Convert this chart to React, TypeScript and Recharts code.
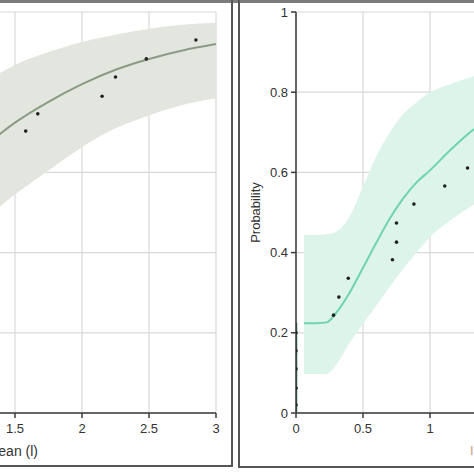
import React from 'react';
import { ComposedChart, Area, Line, Scatter, XAxis, YAxis, CartesianGrid } from 'recharts';

// Left panel: fitted curve, confidence band and observed points
const leftX = [1.3, 1.5, 1.75, 2.0, 2.25, 2.5, 2.75, 3.0];
const leftFit = [0.672, 0.724, 0.776, 0.82, 0.856, 0.883, 0.904, 0.92];
const leftLow = [0.49, 0.545, 0.605, 0.663, 0.71, 0.742, 0.768, 0.785];
const leftHigh = [0.83, 0.868, 0.9, 0.925, 0.943, 0.958, 0.968, 0.973];
const leftObsX = [1.58, 1.67, 2.15, 2.25, 2.48, 2.85];
const leftObsY = [0.703, 0.746, 0.79, 0.838, 0.883, 0.93];
const leftTicks = [1, 1.5, 2, 2.5, 3];

// Right panel: probability curve, confidence band and observed points
const rightX = [0.06, 0.15, 0.23, 0.3, 0.4, 0.5, 0.6, 0.7, 0.8, 0.9, 1.0, 1.15, 1.33, 1.5];
const rightFit = [0.224, 0.224, 0.226, 0.25, 0.3, 0.362, 0.425, 0.485, 0.535, 0.575, 0.605, 0.655, 0.708, 0.74];
const rightLow = [0.097, 0.097, 0.098, 0.12, 0.175, 0.222, 0.268, 0.315, 0.36, 0.4, 0.439, 0.48, 0.52, 0.55];
const rightHigh = [0.444, 0.444, 0.446, 0.452, 0.49, 0.565, 0.64, 0.7, 0.745, 0.775, 0.8, 0.82, 0.84, 0.855];
const rightObsX = [0, 0, 0, 0, 0, 0.28, 0.32, 0.39, 0.72, 0.75, 0.75, 0.88, 1.11, 1.28];
const rightObsY = [0.02, 0.062, 0.11, 0.155, 0.2, 0.244, 0.289, 0.336, 0.382, 0.426, 0.474, 0.521, 0.566, 0.611];
const rightBaseY = [0, 0.225];
const rightTicks = [0, 0.5, 1, 1.5, 2];

const probTicks = [0, 0.2, 0.4, 0.6, 0.8, 1];

const curveRows = (xs: number[], fit: number[], lo: number[], hi: number[]) =>
  xs.map((x, i) => ({ x, fit: fit[i], band: [lo[i], hi[i]] }));
const pointRows = (xs: number[], ys: number[]) => xs.map((x, i) => ({ x, y: ys[i] }));

const leftCurve = curveRows(leftX, leftFit, leftLow, leftHigh);
const leftPoints = pointRows(leftObsX, leftObsY);
const rightCurve = curveRows(rightX, rightFit, rightLow, rightHigh);
const rightPoints = pointRows(rightObsX, rightObsY);
const rightBase = rightBaseY.map((y) => ({ x: 0, y }));

const FONT = 'Arial, "Liberation Sans", sans-serif';
const AXIS = '#3a3a3a';
const GRID = '#d9d9d9';
const tickStyle = { fontSize: 13, fill: '#333', fontFamily: FONT };

const Dot = (p: any) => <circle cx={p.cx} cy={p.cy} r={1.8} fill="#222" />;

export default function App() {
  return (
    <div
      style={{
        position: 'fixed', left: 0, top: 0, width: 474, height: 474,
        overflow: 'hidden', background: '#fff', fontFamily: FONT,
      }}
    >
      {/* left chart */}
      <div style={{ position: 'absolute', left: -52, top: 0 }}>
        <ComposedChart width={278} height={474} margin={{ top: 12, right: 10, bottom: 31, left: 0 }}>
          <CartesianGrid stroke={GRID} strokeWidth={1.2} />
          <XAxis
            dataKey="x" type="number" domain={[1, 3]} ticks={leftTicks} allowDataOverflow
            height={30} tickSize={5} tickMargin={6} tick={tickStyle}
            axisLine={{ stroke: AXIS, strokeWidth: 1.5 }} tickLine={{ stroke: AXIS, strokeWidth: 1.5 }}
          />
          <XAxis xAxisId="top" orientation="top" type="number" domain={[1, 3]} height={0}
            tick={false} tickLine={false} axisLine={{ stroke: AXIS, strokeWidth: 1.5 }} />
          <YAxis type="number" domain={[0, 1]} ticks={probTicks} hide />
          <YAxis yAxisId="right" orientation="right" type="number" domain={[0, 1]} width={0}
            tick={false} tickLine={false} axisLine={{ stroke: AXIS, strokeWidth: 1.5 }} />
          <Area data={leftCurve} dataKey="band" type="natural" stroke="none" fill="#e3e6df"
            fillOpacity={1} isAnimationActive={false} />
          <Line data={leftCurve} dataKey="fit" type="natural" stroke="#8a9a84" strokeWidth={2}
            dot={false} isAnimationActive={false} />
          <Scatter data={leftPoints} dataKey="y" shape={Dot} isAnimationActive={false} />
        </ComposedChart>
      </div>

      {/* right chart */}
      <div style={{ position: 'absolute', left: 238, top: 0 }}>
        <ComposedChart width={326} height={474} margin={{ top: 12, right: 0, bottom: 31, left: 18 }}>
          <CartesianGrid stroke={GRID} strokeWidth={1.2} />
          <XAxis
            dataKey="x" type="number" domain={[0, 2]} ticks={rightTicks} allowDataOverflow
            height={30} tickSize={5} tickMargin={6} tick={tickStyle}
            axisLine={{ stroke: AXIS, strokeWidth: 1.5 }} tickLine={{ stroke: AXIS, strokeWidth: 1.5 }}
          />
          <XAxis xAxisId="top" orientation="top" type="number" domain={[0, 2]} height={0}
            tick={false} tickLine={false} axisLine={{ stroke: AXIS, strokeWidth: 1.5 }} />
          <YAxis
            type="number" domain={[0, 1]} ticks={probTicks} width={40} tickSize={5} tickMargin={3}
            tick={tickStyle} tickFormatter={(v: number) => String(v)}
            axisLine={{ stroke: AXIS, strokeWidth: 1.5 }} tickLine={{ stroke: AXIS, strokeWidth: 1.5 }}
            label={{
              value: 'Probability', angle: -90, position: 'insideLeft', offset: -1,
              style: { fontSize: 13, fill: '#333', fontFamily: FONT, textAnchor: 'middle' },
            }}
          />
          <Area data={rightCurve} dataKey="band" type="monotone" stroke="none" fill="#dcf4ea"
            fillOpacity={1} isAnimationActive={false} />
          <Line data={rightCurve} dataKey="fit" type="monotone" stroke="#6fd3b0" strokeWidth={2}
            dot={false} isAnimationActive={false} />
          <Line data={rightBase} dataKey="y" stroke="#2f6b59" strokeWidth={2.5}
            dot={false} isAnimationActive={false} />
          <Scatter data={rightPoints} dataKey="y" shape={Dot} isAnimationActive={false} />
        </ComposedChart>
      </div>

      {/* axis titles */}
      <div style={{ position: 'absolute', right: 436, top: 443, fontSize: 14, color: '#333', whiteSpace: 'nowrap' }}>
        Intensity mean (l)
      </div>
      <div style={{ position: 'absolute', left: 470, top: 443, fontSize: 13, color: '#c89c7c', whiteSpace: 'nowrap' }}>
        Intensity (l)
      </div>

      {/* panel frames */}
      <div style={{ position: 'absolute', left: 0, top: 0, width: 474, height: 3, background: '#7c7c7c' }} />
      <div style={{ position: 'absolute', left: -10, top: 0, width: 243, height: 467, borderRight: '2px solid #555', borderBottom: '2px solid #555', boxSizing: 'border-box' }} />
      <div style={{ position: 'absolute', left: 238, top: 0, width: 250, height: 468, borderLeft: '2px solid #555', borderBottom: '2px solid #555', boxSizing: 'border-box' }} />
    </div>
  );
}
